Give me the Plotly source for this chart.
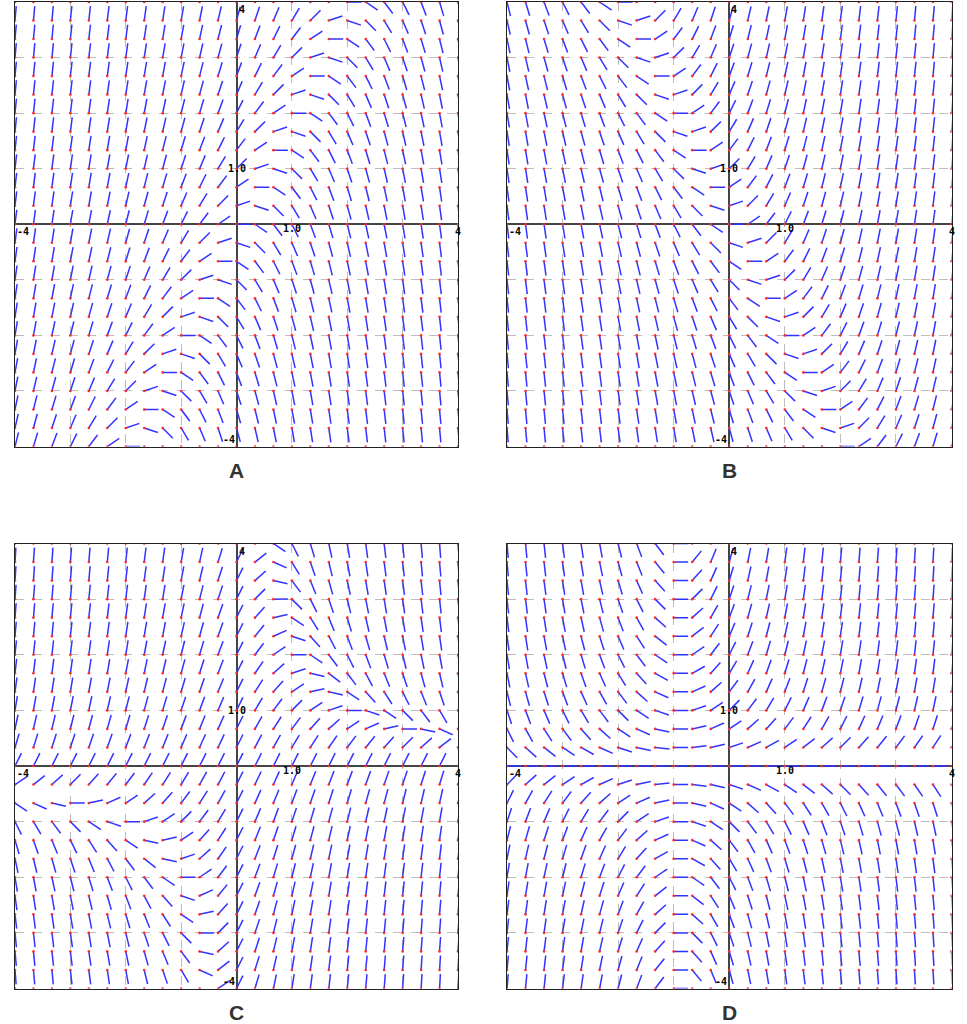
import numpy as np
import plotly.graph_objects as go

# base points of the slope marks: every 1/3 from -4 to 4 on both axes
grid_vals = np.linspace(-4, 4, 25)
panel_names = ['A', 'B', 'C', 'D']
x_tick_labels = ['-4', '1.0', '4']
x_tick_pos = [-4, 1, 4]
y_tick_labels = ['-4', '1.0', '4']
y_tick_pos = [-4, 1, 4]


# the four differential equations y' = f(x, y)
def slope_a(x, y):
    return y - 2 * x


def slope_b(x, y):
    return y + 2 * x


def slope_c(x, y):
    return 2 - x * y


def slope_d(x, y):
    return x * y + y


slope_funcs = [slope_a, slope_b, slope_c, slope_d]

SEG = 0.26   # length of one slope mark, in axis units
W, H = 967, 1024

# panel boxes in page pixels (left, right, top, bottom)
boxes = [(15, 458, 2, 446.5), (507, 951.5, 2, 446.5),
         (15, 458, 543.5, 988.5), (507, 951.5, 543.5, 988.5)]
letter_y = [470, 470, 1012, 1012]

fig = go.Figure()
X, Y = np.meshgrid(grid_vals, grid_vals)
X = X.ravel()
Y = Y.ravel()

for i, (name, f) in enumerate(zip(panel_names, slope_funcs)):
    n = '' if i == 0 else str(i + 1)
    m = f(X, Y)
    d = SEG / np.sqrt(1 + m ** 2)
    xs, ys = [], []
    for x0, y0, dx, mm in zip(X, Y, d, m):
        xs += [x0, x0 + dx, None]
        ys += [y0, y0 + mm * dx, None]
    fig.add_trace(go.Scatter(x=xs, y=ys, mode='lines', xaxis='x' + n, yaxis='y' + n,
                             line=dict(color='#3333ff', width=1.5), hoverinfo='skip',
                             showlegend=False))
    fig.add_trace(go.Scatter(x=X, y=Y, mode='markers', xaxis='x' + n, yaxis='y' + n,
                             marker=dict(color='#ff2a2a', size=2.6), hoverinfo='skip',
                             showlegend=False))

    l, r, t, b = boxes[i]
    ax = dict(range=[-4, 4], domain=[l / W, r / W], dtick=1, tick0=0,
              showgrid=True, gridcolor='#bdbdbd', griddash='dash', gridwidth=1,
              zeroline=True, zerolinecolor='#444', zerolinewidth=1.5,
              showline=True, mirror=True, linecolor='#222', linewidth=1,
              showticklabels=False, ticks='', fixedrange=True,
              anchor='y' + n)
    ay = dict(ax)
    ay['domain'] = [1 - b / H, 1 - t / H]
    ay['anchor'] = 'x' + n
    fig.update_layout({'xaxis' + n: ax, 'yaxis' + n: ay})

    tf = dict(family='DejaVu Sans Mono', size=10, color='black')
    for lab, p in zip(x_tick_labels, x_tick_pos):
        xa = 'left' if p == -4 else 'center'
        fig.add_annotation(x=p, y=0, xref='x' + n, yref='y' + n, text='<b>%s</b>' % lab,
                           showarrow=False, xanchor=xa, yanchor='top', yshift=3 if p == 1 else 0,
                           font=tf)
    for lab, p in zip(y_tick_labels, y_tick_pos):
        if p == -4:
            xa, ya = 'right', 'bottom'
        elif p == 4:
            xa, ya = 'left', 'top'
        else:
            xa, ya = 'center', 'middle'
        fig.add_annotation(x=0, y=p, xref='x' + n, yref='y' + n, text='<b>%s</b>' % lab,
                           showarrow=False, xanchor=xa, yanchor=ya, font=tf)

    fig.add_annotation(x=(l + r) / 2 / W, y=1 - letter_y[i] / H,
                       xref='paper', yref='paper',
                       text='<b>%s</b>' % name, showarrow=False, xanchor='center',
                       yanchor='middle',
                       font=dict(family='Liberation Sans', size=21, color='#333'))

fig.update_layout(width=W, height=H, margin=dict(l=0, r=0, t=0, b=0),
                  plot_bgcolor='white', paper_bgcolor='white')

# drop the browser's default body margin so the figure sits at the page corner
fig.write_html("out.html", config={'displayModeBar': False},
               post_script="document.body.style.margin='0';")
